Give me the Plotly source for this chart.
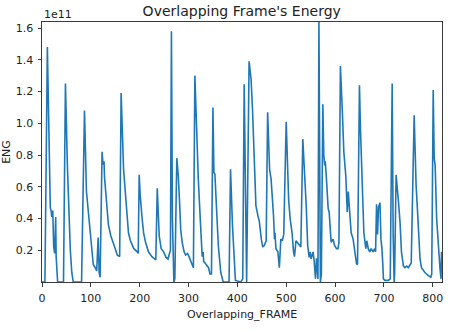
import plotly.graph_objects as go

# Frame index and energy (in units of 1e11)
frames = [0, 6, 11, 17, 19, 20, 22, 24, 26, 28, 29, 32, 44, 48, 52, 55, 58, 61, 64, 81,
          87, 91, 98, 105, 109, 112, 115, 117, 119, 123, 125, 127, 128, 132, 134, 136, 141, 146, 150, 154,
          157, 159, 162, 164, 167, 171, 174, 177, 181, 188, 195, 197, 199, 201, 205, 208, 212, 218, 225, 231,
          233, 236, 238, 240, 244, 249, 254, 258, 261, 263, 265, 267, 270, 272, 276, 279, 282, 284, 287, 291,
          294, 298, 301, 304, 308, 310, 313, 316, 320, 324, 327, 328, 330, 331, 335, 341, 344, 347, 350, 352,
          354, 357, 361, 366, 371, 383, 386, 390, 393, 396, 407, 411, 414, 418, 419, 424, 428, 431, 435, 438,
          442, 445, 449, 452, 455, 459, 462, 466, 469, 471, 474, 476, 477, 479, 483, 486, 489, 492, 495, 500,
          503, 505, 508, 512, 515, 517, 520, 523, 527, 530, 534, 539, 541, 544, 547, 549, 551, 555, 557, 560,
          562, 565, 567, 570, 572, 575, 577, 579, 580, 582, 586, 588, 590, 592, 596, 599, 603, 606, 608, 611,
          615, 618, 622, 625, 627, 630, 633, 637, 640, 644, 646, 650, 652, 655, 657, 659, 663, 665, 668, 671,
          674, 678, 681, 683, 685, 687, 689, 692, 694, 696, 698, 699, 702, 709, 713, 717, 719, 721, 722, 725,
          728, 730, 733, 736, 740, 743, 747, 750, 754, 756, 762, 764, 766, 769, 771, 774, 777, 784, 791, 796,
          798, 801, 803, 805, 808, 812, 815, 817, 818, 819]

eng_e11 = [0.0, 0.0, 1.48, 0.47, 0.44, 0.41, 0.45, 0.22, 0.18, 0.41, 0.16, 0.0, 0.0, 1.25, 0.73, 0.45, 0.20, 0.06, 0.0, 0.0,
           1.08, 0.57, 0.32, 0.11, 0.09, 0.07, 0.28, 0.06, 0.03, 0.82, 0.74, 0.76, 0.66, 0.50, 0.48, 0.36, 0.29, 0.25, 0.21, 0.17,
           0.16, 0.16, 1.19, 0.92, 0.71, 0.55, 0.40, 0.31, 0.26, 0.21, 0.19, 0.18, 0.676, 0.55, 0.40, 0.31, 0.25, 0.19, 0.16, 0.145,
           0.14, 0.59, 0.44, 0.29, 0.21, 0.19, 0.155, 0.145, 0.18, 0.20, 1.58, 0.40, 0.0, 0.02, 0.78, 0.67, 0.48, 0.33, 0.25, 0.19,
           0.17, 0.18, 0.16, 0.135, 0.10, 0.09, 1.30, 0.99, 0.65, 0.40, 0.23, 0.16, 0.19, 0.13, 0.115, 0.09, 0.05, 0.05, 1.10, 0.69,
           0.68, 0.48, 0.23, 0.06, 0.0, 0.0, 0.71, 0.355, 0.145, 0.01, 0.0, 0.02, 1.245, 0.0, 0.0, 1.39, 1.28, 1.09, 0.78, 0.48,
           0.42, 0.38, 0.27, 0.22, 0.23, 0.26, 1.07, 0.71, 0.65, 0.57, 0.42, 0.27, 0.31, 0.21, 0.19, 0.09, 0.27, 0.26, 0.30, 1.01,
           0.65, 0.52, 0.40, 0.31, 0.19, 0.16, 0.26, 0.25, 0.23, 0.22, 0.90, 0.65, 0.48, 0.23, 0.155, 0.19, 0.145, 0.19, 0.14, 0.02,
           0.15, 0.02, 1.64, 0.0, 0.05, 1.12, 0.80, 0.735, 0.76, 0.67, 0.46, 0.44, 0.31, 0.25, 0.27, 0.23, 0.21, 0.21, 0.25, 1.36,
           1.07, 0.82, 0.67, 0.44, 0.57, 0.40, 0.31, 0.27, 0.19, 0.115, 0.11, 1.24, 0.97, 0.67, 0.48, 0.31, 0.21, 0.26, 0.21, 0.19,
           0.21, 0.19, 0.21, 0.19, 0.49, 0.30, 0.47, 0.50, 0.27, 0.21, 0.10, 0.02, 0.01, 0.01, 0.02, 1.25, 0.30, 0.0, 0.05, 0.675,
           0.59, 0.50, 0.38, 0.19, 0.10, 0.09, 0.10, 0.09, 0.11, 0.12, 1.05, 0.78, 0.61, 0.44, 0.29, 0.145, 0.09, 0.06, 0.04, 0.03,
           0.05, 1.21, 0.78, 0.735, 0.40, 0.19, 0.08, 0.02, 0.19, 0.15]

x_ticks = [0, 100, 200, 300, 400, 500, 600, 700, 800]
y_ticks = [0.2, 0.4, 0.6, 0.8, 1.0, 1.2, 1.4, 1.6]

font = "DejaVu Sans"
fig = go.Figure()
fig.add_trace(go.Scatter(x=frames, y=eng_e11, mode="lines",
                         line=dict(color="#1f77b4", width=1.6), showlegend=False))

axis_common = dict(showline=True, mirror=True, linecolor="#3a3a3a", linewidth=1,
                   ticks="outside", ticklen=3.5, tickwidth=1, tickcolor="#3a3a3a",
                   showgrid=False, zeroline=False, automargin=False, ticklabelstandoff=2,
                   tickfont=dict(family=font, size=11, color="#222"))

fig.update_xaxes(range=[0, 819], tickvals=x_ticks,
                 title=dict(text="Overlapping_FRAME", font=dict(family=font, size=11, color="#222"), standoff=6),
                 **axis_common)
fig.update_yaxes(range=[0, 1.638], tickvals=y_ticks, tickformat=".1f",
                 title=dict(text="ENG", font=dict(family=font, size=11, color="#222"), standoff=4),
                 **axis_common)

fig.add_annotation(text="1e11", xref="paper", yref="paper", x=0, y=1, xanchor="left", yanchor="bottom",
                   showarrow=False, font=dict(family=font, size=11, color="#222"), yshift=-1)

fig.update_layout(
    width=474, height=331,
    margin=dict(l=42, r=32, t=22, b=49),
    paper_bgcolor="white", plot_bgcolor="white",
    title=dict(text="Overlapping Frame's Energy", x=0.51, xanchor="center", y=0.965, yanchor="middle",
               font=dict(family=font, size=14, color="#222")),
)

fig.write_html("out.html")
